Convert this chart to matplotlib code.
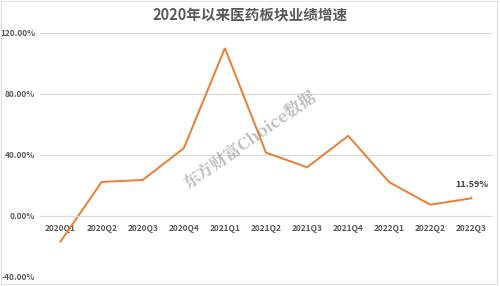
import matplotlib

matplotlib.use("Agg")

import matplotlib.pyplot as plt
from matplotlib.patches import Rectangle
from matplotlib.ticker import FuncFormatter

plt.rcParams["font.family"] = ["Noto Sans CJK SC", "DejaVu Sans"]

quarters = ["2020Q1", "2020Q2", "2020Q3", "2020Q4", "2021Q1", "2021Q2",
            "2021Q3", "2021Q4", "2022Q1", "2022Q2", "2022Q3"]
growth = [-16.8, 22.3, 23.6, 44.4, 110.0, 41.5, 31.9, 52.5, 22.1, 7.4, 11.59]
yticks = [-40, 0, 40, 80, 120]

ORANGE = "#ed7d31"
TEXT = "#595959"
GRID = "#d9d9d9"

fig = plt.figure(figsize=(5, 2.86), dpi=100, facecolor="white")
ax = fig.add_axes([0.08, 0.0315, 0.904, 0.8535])

x = list(range(len(quarters)))
ax.plot(x, growth, color=ORANGE, linewidth=1.4, solid_joinstyle="miter")

ax.set_xlim(-0.5, len(quarters) - 0.5)
ax.set_ylim(-40, 120)
ax.set_yticks(yticks)
ax.yaxis.set_major_formatter(FuncFormatter(lambda v, p: f"{v:.2f}%"))
ax.grid(axis="y", color=GRID, linewidth=0.8)
ax.set_axisbelow(True)

for s in ["left", "right", "top"]:
    ax.spines[s].set_visible(False)
ax.spines["bottom"].set_position(("data", 0))
ax.spines["bottom"].set_color(GRID)
ax.spines["bottom"].set_linewidth(0.8)

ax.set_xticks(x)
ax.set_xticklabels(quarters)
ax.tick_params(axis="x", length=0, pad=6, labelsize=6, labelcolor=TEXT)
ax.tick_params(axis="y", length=0, pad=3.5, labelsize=6, labelcolor=TEXT)
for t in ax.get_xticklabels() + ax.get_yticklabels():
    t.set_fontweight("bold")

# label on last point
ax.annotate(f"{growth[-1]:.2f}%", xy=(x[-1], growth[-1]), xytext=(x[-1], growth[-1] + 9),
            ha="center", va="center", fontsize=6.5, fontweight="bold", color="#404040",
            arrowprops=dict(arrowstyle="-", color="#a6a6a6", lw=0.5, shrinkA=3, shrinkB=1))

fig.text(0.5, 0.947, "2020年以来医药板块业绩增速", ha="center", va="center",
         fontsize=10.5, fontweight="bold", color=TEXT)

# watermark
fig.text(0.5, 0.51, "东方财富Choice数据", ha="center", va="center", rotation=35,
         fontsize=12, fontweight="bold", color="#909090", alpha=0.6,
         family=["Noto Serif CJK SC", "Noto Sans CJK SC", "DejaVu Serif"])

fig.patches.append(Rectangle((0.002, 0.008), 0.992, 0.99, transform=fig.transFigure,
                             fill=False, edgecolor="#e0e0e0", linewidth=0.8))

fig.savefig("out.png", dpi=100, facecolor="white")
